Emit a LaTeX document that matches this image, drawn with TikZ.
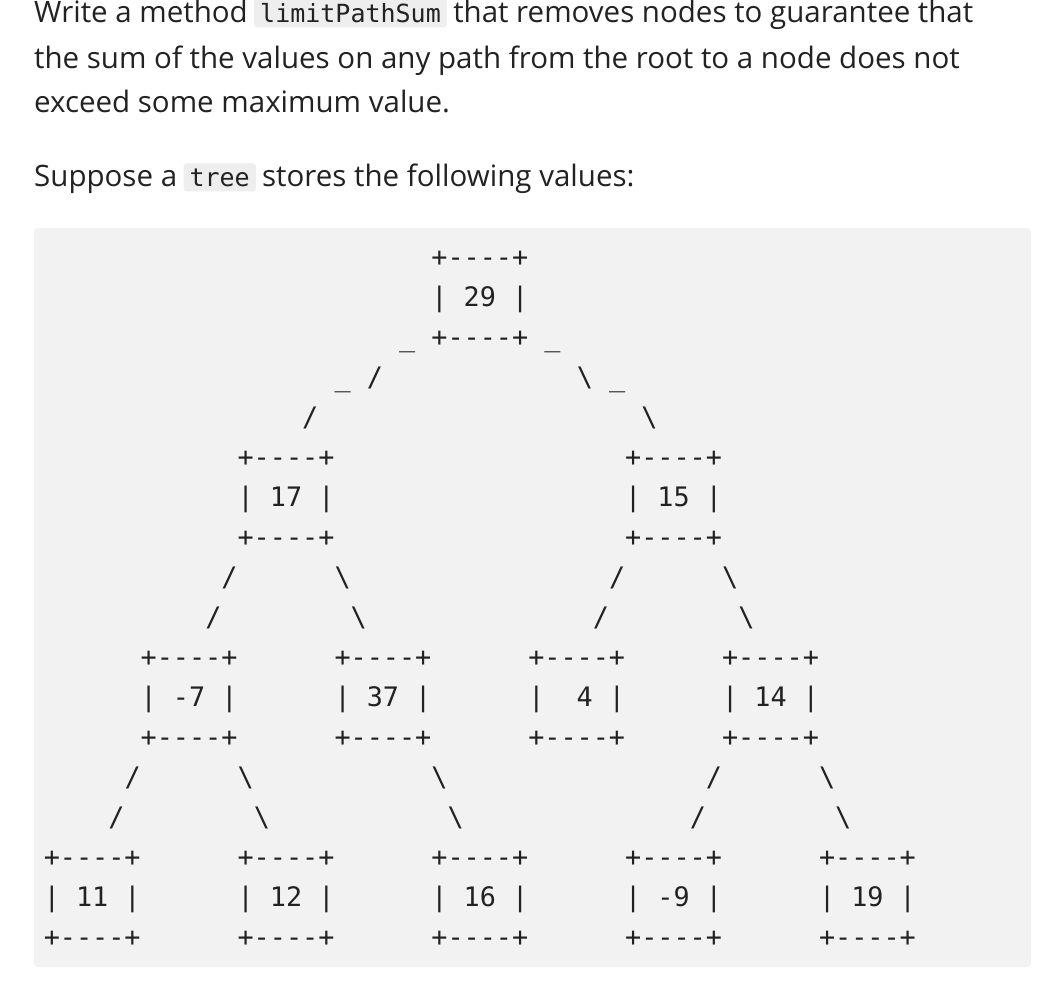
\documentclass[tikz,border=0pt]{standalone}
\usepackage{fontspec}
\setmainfont{Open Sans}
\setmonofont{DejaVu Sans Mono}
\definecolor{codebg}{HTML}{F2F2F2}
\definecolor{inl}{HTML}{EEEEEE}
\definecolor{txt}{HTML}{222222}
\tikzset{
  asc/.style={anchor=base west,inner sep=0pt,font=\ttfamily\fontsize{26.8}{26.8}\selectfont,text=txt},
  body/.style={anchor=base west,inner sep=0pt,font=\fontsize{29.5}{34}\selectfont,text=txt},
  inline/.style={anchor=base west,inner xsep=6pt,inner ysep=5pt,fill=inl,rounded corners=3pt,font=\ttfamily\fontsize{25}{28}\selectfont,text=txt}
}
\newcommand\C[4]{\node[asc] (#1) at ({43.6+(#3)*16.15},{-(266+40*(#2))}) {#4};}
\newcommand\B[4]{%
  \C{#1t}{#2}{#3}{+-\kern0pt-\kern0pt-\kern0pt-+}
  \C{#1}{#2+1}{#3}{|~#4~|}
  \C{#1b}{#2+2}{#3}{+-\kern0pt-\kern0pt-\kern0pt-+}}
\begin{document}
\begin{tikzpicture}[x=1pt,y=1pt]
\useasboundingbox (0,0) rectangle (1062,-986);
\fill[white] (0,0) rectangle (1062,-986);
% text
\node[body] (w1) at (34,-22) {Write a method};
\node[inline,anchor=base west] (code1) at ([xshift=6pt]w1.base east) {limitPathSum};
\node[body] (w2) at ([xshift=6pt]code1.base east) {that removes nodes to guarantee that};
\node[body] (l2) at (34,-68) {the sum of the values on any path from the root to a node does not};
\node[body] (l3) at (34,-112) {exceed some maximum value.};
\node[body] (s1) at (34,-186) {Suppose a};
\node[inline] (code2) at ([xshift=6pt]s1.base east) {tree};
\node[body] (s2) at ([xshift=6pt]code2.base east) {stores the following values:};
% code block
\fill[codebg,rounded corners=4pt] (34,-228) rectangle (1031,-967);
% tree
\B{n29}{0}{24}{29}
\C{u1}{2}{22}{\_}
\C{u2}{2}{31}{\_}
\C{u3}{3}{18}{\_}
\C{e1}{3}{20}{/}
\C{e2}{3}{33}{\textbackslash}
\C{u4}{3}{35}{\_}
\C{e3}{4}{16}{/}
\C{e4}{4}{37}{\textbackslash}
\B{n17}{5}{12}{17}
\B{n15}{5}{36}{15}
\C{e5}{8}{11}{/}
\C{e6}{8}{18}{\textbackslash}
\C{e7}{8}{35}{/}
\C{e8}{8}{42}{\textbackslash}
\C{e9}{9}{10}{/}
\C{e10}{9}{19}{\textbackslash}
\C{e11}{9}{34}{/}
\C{e12}{9}{43}{\textbackslash}
\B{nm7}{10}{6}{-7}
\B{n37}{10}{18}{37}
\B{n4}{10}{30}{~4}
\B{n14}{10}{42}{14}
\C{e13}{13}{5}{/}
\C{e14}{13}{12}{\textbackslash}
\C{e15}{13}{24}{\textbackslash}
\C{e16}{13}{41}{/}
\C{e17}{13}{48}{\textbackslash}
\C{e18}{14}{4}{/}
\C{e19}{14}{13}{\textbackslash}
\C{e20}{14}{25}{\textbackslash}
\C{e21}{14}{40}{/}
\C{e22}{14}{49}{\textbackslash}
\B{n11}{15}{0}{11}
\B{n12}{15}{12}{12}
\B{n16}{15}{24}{16}
\B{nm9}{15}{36}{-9}
\B{n19}{15}{48}{19}
\end{tikzpicture}
\end{document}
